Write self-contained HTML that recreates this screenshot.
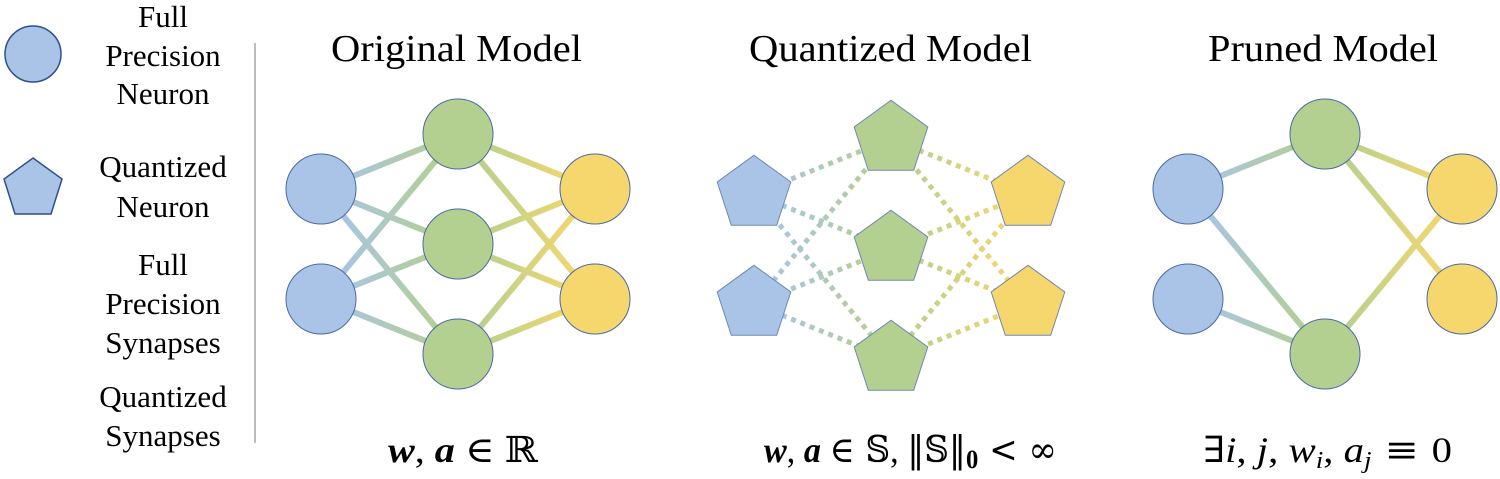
<!DOCTYPE html>
<html><head><meta charset="utf-8"><style>
html,body{margin:0;padding:0;background:#fff;}
svg{display:block;}
text{font-family:"Liberation Serif",serif;fill:#000;}
.m{font-family:"DejaVu Serif","Liberation Serif",serif;}
</style></head><body>
<svg width="1500" height="479" viewBox="0 0 1500 479" xmlns="http://www.w3.org/2000/svg">
<defs>
<linearGradient id="bg" x1="0" y1="0" x2="1" y2="0"><stop offset="0.1" stop-color="#a9c4e7"/><stop offset="0.9" stop-color="#b4d090"/></linearGradient>
<linearGradient id="gy" x1="0" y1="0" x2="1" y2="0"><stop offset="0.1" stop-color="#b4d090"/><stop offset="0.9" stop-color="#f5d76e"/></linearGradient>
</defs>

<circle cx="33" cy="54" r="28" fill="#a9c4e7" stroke="#2f4f8f" stroke-width="1.5"/>
<polygon points="33,158 62,179 51,214 15,214 4,179" fill="#a9c4e7" stroke="#2f4f8f" stroke-width="1.5"/>
<line x1="5" y1="303" x2="61" y2="303" stroke="url(#bg)" stroke-width="5"/>
<line x1="7" y1="425" x2="61" y2="425" stroke="url(#bg)" stroke-width="5" stroke-dasharray="5 5"/>
<g font-size="31" text-anchor="middle">
<text x="163" y="27">Full</text>
<text x="163" y="66">Precision</text>
<text x="163" y="104">Neuron</text>
<text x="163" y="177">Quantized</text>
<text x="163" y="217">Neuron</text>
<text x="163" y="275">Full</text>
<text x="163" y="314">Precision</text>
<text x="163" y="353">Synapses</text>
<text x="163" y="407">Quantized</text>
<text x="163" y="446">Synapses</text>
</g>
<line x1="255" y1="43" x2="255" y2="443" stroke="#bdbdbd" stroke-width="2"/>

<g font-size="38">
<text x="331" y="61" textLength="251" lengthAdjust="spacingAndGlyphs">Original Model</text>
<text x="749" y="61" textLength="283" lengthAdjust="spacingAndGlyphs">Quantized Model</text>
<text x="1208" y="61" textLength="230" lengthAdjust="spacingAndGlyphs">Pruned Model</text>
</g>

<g stroke-width="6">
<line x1="321" y1="189" x2="458" y2="134" stroke="url(#bg)"/>
<line x1="321" y1="189" x2="458" y2="244" stroke="url(#bg)"/>
<line x1="321" y1="189" x2="458" y2="354" stroke="url(#bg)"/>
<line x1="321" y1="299" x2="458" y2="134" stroke="url(#bg)"/>
<line x1="321" y1="299" x2="458" y2="244" stroke="url(#bg)"/>
<line x1="321" y1="299" x2="458" y2="354" stroke="url(#bg)"/>
<line x1="458" y1="134" x2="595" y2="189" stroke="url(#gy)"/>
<line x1="458" y1="134" x2="595" y2="299" stroke="url(#gy)"/>
<line x1="458" y1="244" x2="595" y2="189" stroke="url(#gy)"/>
<line x1="458" y1="244" x2="595" y2="299" stroke="url(#gy)"/>
<line x1="458" y1="354" x2="595" y2="189" stroke="url(#gy)"/>
<line x1="458" y1="354" x2="595" y2="299" stroke="url(#gy)"/>
</g>
<g stroke="#4a6aa5" stroke-width="1">
<circle cx="321" cy="189" r="35" fill="#a9c4e7"/>
<circle cx="321" cy="299" r="35" fill="#a9c4e7"/>
<circle cx="458" cy="134" r="35" fill="#b4d090"/>
<circle cx="458" cy="244" r="35" fill="#b4d090"/>
<circle cx="458" cy="354" r="35" fill="#b4d090"/>
<circle cx="595" cy="189" r="35" fill="#f5d76e"/>
<circle cx="595" cy="299" r="35" fill="#f5d76e"/>
</g>

<g stroke-width="5" stroke-dasharray="5 5">
<line x1="754" y1="194" x2="891" y2="139" stroke="url(#bg)"/>
<line x1="754" y1="194" x2="891" y2="249" stroke="url(#bg)"/>
<line x1="754" y1="194" x2="891" y2="359" stroke="url(#bg)"/>
<line x1="754" y1="304" x2="891" y2="139" stroke="url(#bg)"/>
<line x1="754" y1="304" x2="891" y2="249" stroke="url(#bg)"/>
<line x1="754" y1="304" x2="891" y2="359" stroke="url(#bg)"/>
<line x1="891" y1="139" x2="1028" y2="194" stroke="url(#gy)"/>
<line x1="891" y1="139" x2="1028" y2="304" stroke="url(#gy)"/>
<line x1="891" y1="249" x2="1028" y2="194" stroke="url(#gy)"/>
<line x1="891" y1="249" x2="1028" y2="304" stroke="url(#gy)"/>
<line x1="891" y1="359" x2="1028" y2="194" stroke="url(#gy)"/>
<line x1="891" y1="359" x2="1028" y2="304" stroke="url(#gy)"/>
</g>
<g stroke="#7088b0" stroke-width="1">
<polygon transform="translate(754,194)" points="0,-38.7 36.8,-12 22.7,31.3 -22.7,31.3 -36.8,-12" fill="#a9c4e7"/>
<polygon transform="translate(754,304)" points="0,-38.7 36.8,-12 22.7,31.3 -22.7,31.3 -36.8,-12" fill="#a9c4e7"/>
<polygon transform="translate(891,139)" points="0,-38.7 36.8,-12 22.7,31.3 -22.7,31.3 -36.8,-12" fill="#b4d090"/>
<polygon transform="translate(891,249)" points="0,-38.7 36.8,-12 22.7,31.3 -22.7,31.3 -36.8,-12" fill="#b4d090"/>
<polygon transform="translate(891,359)" points="0,-38.7 36.8,-12 22.7,31.3 -22.7,31.3 -36.8,-12" fill="#b4d090"/>
<polygon transform="translate(1028,194)" points="0,-38.7 36.8,-12 22.7,31.3 -22.7,31.3 -36.8,-12" fill="#f5d76e"/>
<polygon transform="translate(1028,304)" points="0,-38.7 36.8,-12 22.7,31.3 -22.7,31.3 -36.8,-12" fill="#f5d76e"/>
</g>

<g stroke-width="6">
<line x1="1188" y1="189" x2="1325" y2="134" stroke="url(#bg)"/>
<line x1="1188" y1="189" x2="1325" y2="354" stroke="url(#bg)"/>
<line x1="1188" y1="299" x2="1325" y2="354" stroke="url(#bg)"/>
<line x1="1325" y1="134" x2="1462" y2="189" stroke="url(#gy)"/>
<line x1="1325" y1="134" x2="1462" y2="299" stroke="url(#gy)"/>
<line x1="1325" y1="354" x2="1462" y2="189" stroke="url(#gy)"/>
</g>
<g stroke="#4a6aa5" stroke-width="1">
<circle cx="1188" cy="189" r="35" fill="#a9c4e7"/>
<circle cx="1188" cy="299" r="35" fill="#a9c4e7"/>
<circle cx="1325" cy="134" r="35" fill="#b4d090"/>
<circle cx="1325" cy="354" r="35" fill="#b4d090"/>
<circle cx="1462" cy="189" r="35" fill="#f5d76e"/>
<circle cx="1462" cy="299" r="35" fill="#f5d76e"/>
</g>

<g font-size="36">
<text x="388" y="462" textLength="150" lengthAdjust="spacingAndGlyphs"><tspan font-weight="bold" font-style="italic">w</tspan>, <tspan font-weight="bold" font-style="italic">a</tspan> <tspan class="m">∈</tspan> <tspan class="m">ℝ</tspan></text>
<text x="764" y="462" textLength="293" lengthAdjust="spacingAndGlyphs"><tspan font-weight="bold" font-style="italic">w</tspan>, <tspan font-weight="bold" font-style="italic">a</tspan> <tspan class="m">∈ 𝕊</tspan>, <tspan class="m">‖𝕊‖</tspan><tspan font-weight="bold" font-size="26" dy="6">0</tspan><tspan dy="-6" class="m"> &lt; ∞</tspan></text>
<text x="1203" y="462" textLength="249" lengthAdjust="spacingAndGlyphs"><tspan class="m">∃</tspan><tspan font-style="italic">i</tspan>, <tspan font-style="italic">j</tspan>, <tspan font-style="italic">w</tspan><tspan font-style="italic" font-size="24" dy="6">i</tspan><tspan dy="-6">, </tspan><tspan font-style="italic">a</tspan><tspan font-style="italic" font-size="24" dy="6">j</tspan><tspan dy="-6" class="m"> ≡ </tspan>0</text>
</g>
</svg>
</body></html>
